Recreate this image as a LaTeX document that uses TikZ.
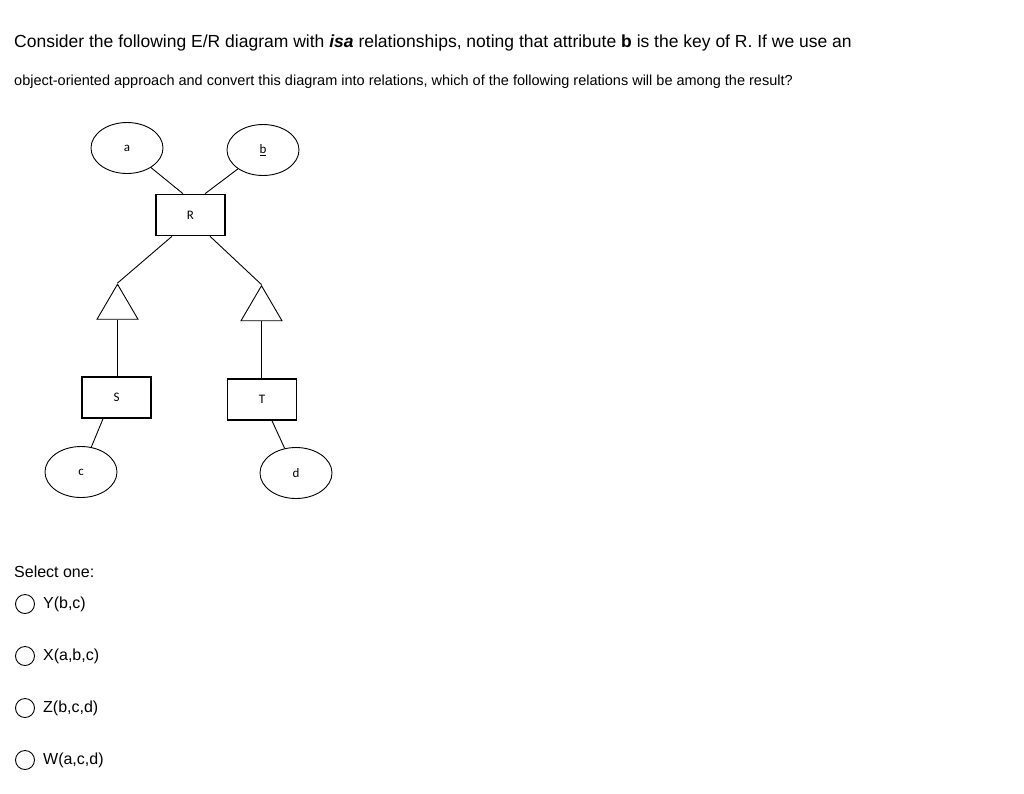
\documentclass[tikz,border=0pt]{standalone}
\usepackage{fontspec}
\setmainfont{Liberation Sans}
\newfontfamily\erfont{Carlito}
\usetikzlibrary{shapes.geometric}

\begin{document}
\begin{tikzpicture}[x=1pt,y=-1pt,
  entity/.style={draw,line width=1.6pt,minimum width=69pt,minimum height=41pt,font=\erfont\fontsize{13}{15}\selectfont},
  attr/.style={draw,ellipse,line width=0.9pt,minimum width=72pt,minimum height=51pt,inner sep=0pt,font=\erfont\fontsize{13}{15}\selectfont},
  isa/.style={draw,isosceles triangle,shape border rotate=90,isosceles triangle stretches,
    minimum width=41pt,minimum height=35pt,inner sep=0pt,line width=0.9pt},
  link/.style={line width=0.9pt},
  txt/.style={anchor=base west,inner sep=0pt},
  radio/.style={draw,circle,minimum size=19pt,inner sep=0pt,line width=0.9pt}]
\useasboundingbox (0,0) rectangle (1024,793);

% question
\node[txt,font=\fontsize{17.5}{20}\selectfont] (q1) at (14,47)
  {Consider the following E/R diagram with \textbf{\textit{isa}} relationships, noting that attribute \textbf{b} is the key of R. If we use an};
\node[txt,font=\fontsize{14.5}{17}\selectfont] (q2) at (14,85)
  {object-oriented approach and convert this diagram into relations, which of the following relations will be among the result?};

% diagram
\node[attr] (a) at (127,148) {a};
\node[attr] (b) at (263,150) {\underline{b}};
\node[entity] (R) at (190.5,215) {R};
\node[isa] (isaS) at (117.5,307.5) {};
\node[isa] (isaT) at (261.5,309) {};
\node[entity] (S) at (116.5,397.5) {S};
\node[entity] (T) at (262,399.5) {T};
\node[attr] (c) at (81,472) {c};
\node[attr] (d) at (296,473) {d};

\draw[link] (a) -- (R.north -| 183,0);
\draw[link] (b) -- (R.north -| 205,0);
\draw[link] (R.south -| 172,0) -- (isaS.apex);
\draw[link] (R.south -| 210,0) -- (isaT.apex);
\draw[link] (isaS.lower side) -- (S.north -| isaS.lower side);
\draw[link] (isaT.lower side) -- (T.north -| isaT.lower side);
\draw[link] (S.south -| 103,0) -- (c);
\draw[link] (T.south -| 272,0) -- (d);

% answers
\node[txt,font=\fontsize{16}{19}\selectfont] (sel) at (14,577) {Select one:};
\node[radio] (r1) at (25,604) {};
\node[radio] (r2) at (25,656) {};
\node[radio] (r3) at (25,708) {};
\node[radio] (r4) at (25,760) {};
\foreach \r/\t in {r1/Y(b{,}c),r2/X(a{,}b{,}c),r3/Z(b{,}c{,}d),r4/W(a{,}c{,}d)}
  \node[txt,font=\fontsize{16}{19}\selectfont,anchor=west,inner sep=0pt] at ([xshift=8pt]\r.east) {\t};
\end{tikzpicture}
\end{document}
